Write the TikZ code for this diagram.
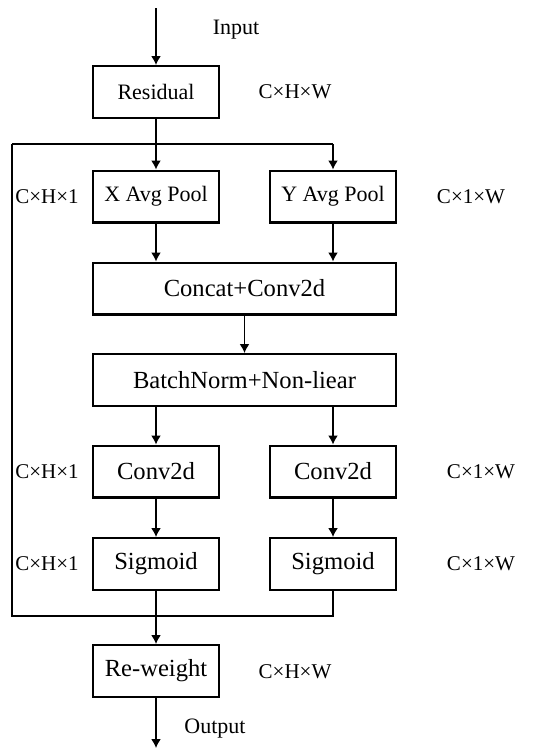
\documentclass[tikz,border=0pt]{standalone}
\usepackage{fontspec}
\setmainfont{Liberation Serif}
\usetikzlibrary{arrows.meta}
\tikzstyle{attnblocks}=[%
	x=0.5pt,
	y=-0.5pt,
	font=\fontsize{11}{13}\selectfont,
	block/.style={%
		draw=black,
		line width=1.2pt,
		minimum width=62.8pt,
		minimum height=25.8pt,
		inner sep=0pt
	},
	bigblock/.style={%
		block,
		font=\fontsize{12.3}{14}\selectfont
	},
	wideblock/.style={%
		bigblock,
		minimum width=151.3pt
	},
	flow/.style={%
		draw=black,
		line width=0.75pt
	},
	arr/.style={%
		flow,
		-{Latex[length=4.5pt,width=5pt]}
	},
	dimlabel/.style={%
		font=\fontsize{10.5}{12}\selectfont,
		inner sep=0pt
	}
]

\begin{document}
\begin{tikzpicture}[attnblocks]
	\useasboundingbox (0,0) rectangle (550,755);

	\node[block] (res) at (156,92) {Residual};
	\node[block] (xpool) at (156,196.5) {X Avg Pool};
	\node[block] (ypool) at (333,196.5) {Y Avg Pool};
	\node[wideblock] (concat) at (244.5,288.5) {Concat+Conv2d};
	\node[wideblock] (bn) at (244.5,380) {BatchNorm+Non-liear};
	\node[bigblock] (convx) at (156,471.5) {Conv2d};
	\node[bigblock] (convy) at (333,471.5) {Conv2d};
	\node[bigblock] (sigx) at (156,564) {Sigmoid};
	\node[bigblock] (sigy) at (333,564) {Sigmoid};
	\node[bigblock] (rew) at (156,671) {Re-weight};

	\node (inlabel) at (236,30) {Input};
	\node (outlabel) at (215,729) {Output};

	\node[dimlabel] (dimres) at (295,92) {C×H×W};
	\node[dimlabel] (dimrew) at (295,672) {C×H×W};
	\node[dimlabel] (dimxpool) at (47,196.5) {C×H×1};
	\node[dimlabel] (dimypool) at (471,196.5) {C×1×W};
	\foreach \y/\n in {472/conv, 564/sig} {
		\node[dimlabel] (dimx\n) at (47,\y) {C×H×1};
		\node[dimlabel] (dimy\n) at (481,\y) {C×1×W};
	}

	\coordinate (in) at (156,8);
	\coordinate (split) at (156,144);
	\coordinate (splitl) at (12,144);
	\coordinate (splitr) at (333,144);
	\coordinate (mergel) at (12,616);
	\coordinate (merge) at (156,616);
	\coordinate (merger) at (333,616);
	\coordinate (out) at (156,748);

	\draw[arr] (in) -- (res);
	\draw[flow] (res) -- (split);
	\draw[flow] (splitl) -- (splitr);
	\draw[arr] (split) -- (xpool);
	\draw[arr] (splitr) -- (ypool);
	\draw[arr] (xpool) -- (xpool |- concat.north);
	\draw[arr] (ypool) -- (ypool |- concat.north);
	\draw[arr] (concat) -- (bn);
	\draw[arr] (bn.south -| convx) -- (convx);
	\draw[arr] (bn.south -| convy) -- (convy);
	\draw[arr] (convx) -- (sigx);
	\draw[arr] (convy) -- (sigy);
	\draw[flow] (splitl) -- (mergel) -- (merge);
	\draw[flow] (sigx) -- (merge);
	\draw[flow] (sigy) -- (merger) -- (merge);
	\draw[arr] (merge) -- (rew);
	\draw[arr] (rew) -- (out);
\end{tikzpicture}
\end{document}
